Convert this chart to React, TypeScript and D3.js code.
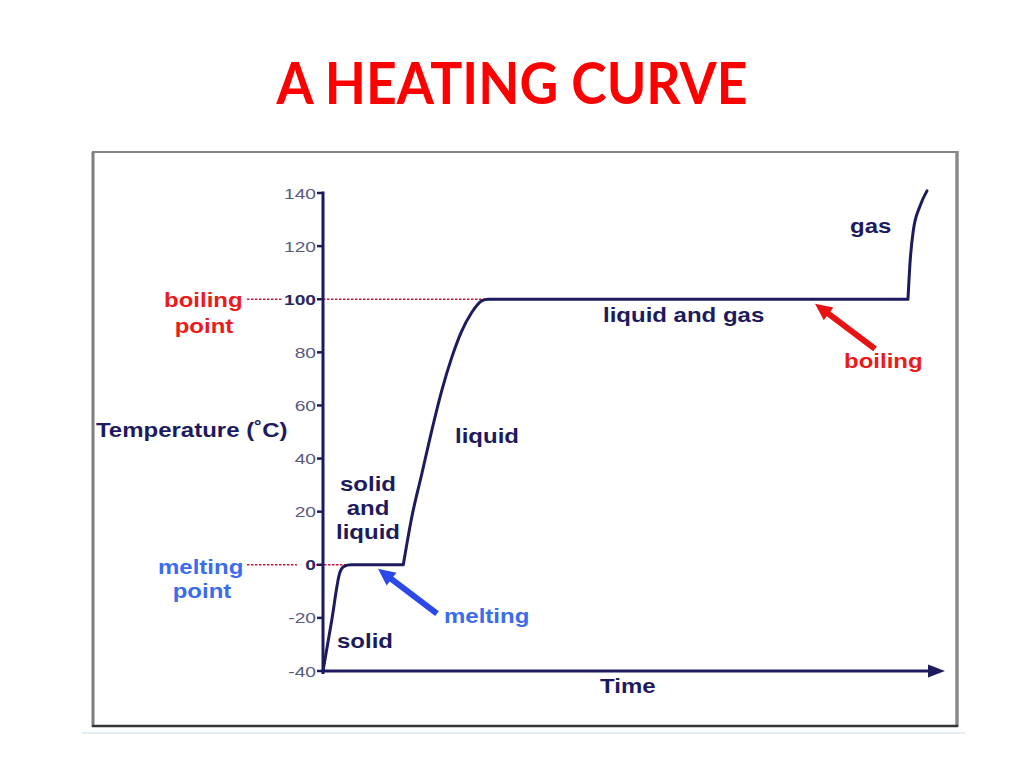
import React from "react";
import * as d3 from "d3";

// ---- data ----
const timeValues = [0, 1.4, 2.7, 3.4, 4.5, 12.91, 14.26, 15.87, 17.48, 19.08, 20.69, 22.3, 23.91, 25.51, 26.58, 94.05, 94.4, 94.9, 96.0, 97.1];
const temperatureValues = [-40, -21, -3, -0.6, 0, 0, 17.8, 34.1, 50.5, 65.5, 78, 88, 95, 99.4, 100, 100, 114.5, 125.8, 135.2, 140.8];
const yTicks = [-40, -20, 0, 20, 40, 60, 80, 100, 120, 140];
const meltingPoint = 0;
const boilingPoint = 100;
const meltingArrow = { tail: [18.33, -18.4], tip: [8.84, -1.5] };
const boilingArrow = { tail: [88.75, 81.3], tip: [79.1, 98.3] };
// curve pieces (index ranges) joined at the sharp corners of the heating curve
const curvePieces = [
  [0, 5],
  [5, 15],
  [15, 19],
];

const NAVY = "#1d1b5e";
const RED = "#ee1a1a";
const BLUE = "#3a6cec";

const x = d3.scaleLinear().domain([0, 100]).range([323, 945]);
const y = d3.scaleLinear().domain([-40, 140]).range([671, 193]);

const points: [number, number][] = timeValues.map((t, i) => [t, temperatureValues[i]]);
const line = d3
  .line<[number, number]>()
  .x((d) => x(d[0]))
  .y((d) => y(d[1]))
  .curve(d3.curveMonotoneX);

function Label({ x: lx, y: ly, text, fill, anchor = "start", size = 20, sx = 1.2, weight = "bold" }: any) {
  return (
    <text
      transform={`translate(${lx},${ly}) scale(${sx},1)`}
      textAnchor={anchor}
      fill={fill}
      fontSize={size}
      fontWeight={weight}
      fontFamily="'Liberation Sans', Arial, sans-serif"
    >
      {text}
    </text>
  );
}

function Arrow({ tail, tip, color }: { tail: number[]; tip: number[]; color: string }) {
  const x0 = x(tail[0]), y0 = y(tail[1]);
  const x1 = x(tip[0]), y1 = y(tip[1]);
  const dx = x1 - x0, dy = y1 - y0;
  const len = Math.hypot(dx, dy);
  const ux = dx / len, uy = dy / len;
  const px = -uy, py = ux;
  const headLen = 17, headW = 8, shaftW = 3;
  const bx = x1 - ux * headLen, by = y1 - uy * headLen;
  const pts = [
    [x0 + px * shaftW, y0 + py * shaftW],
    [bx + px * shaftW, by + py * shaftW],
    [bx + px * headW, by + py * headW],
    [x1, y1],
    [bx - px * headW, by - py * headW],
    [bx - px * shaftW, by - py * shaftW],
    [x0 - px * shaftW, y0 - py * shaftW],
  ];
  return <polygon points={pts.map((p) => p.join(",")).join(" ")} fill={color} />;
}

export default function App() {
  const y0 = y(meltingPoint);
  const y100 = y(boilingPoint);
  const meltStartX = x(timeValues[4]);
  const boilStartX = x(timeValues[14]);
  const curveD = curvePieces.map(([a, b]) => line(points.slice(a, b + 1)) || "").join(" ");
  return (
    <svg width={1024} height={768} style={{ position: "absolute", left: 0, top: 0, background: "#fff" }}>
      <text
        x={512}
        y={104}
        textAnchor="middle"
        fill="#ff0000"
        fontSize={57}
        fontWeight="bold"
        fontFamily="Lato, 'Open Sans', sans-serif"
        textLength={471}
        lengthAdjust="spacingAndGlyphs"
      >
        A HEATING CURVE
      </text>

      {/* frame */}
      <line x1={82} x2={965} y1={733} y2={733} stroke="#e4edf4" strokeWidth={2} />
      <line x1={92} x2={957} y1={152} y2={152} stroke="#5a5a5a" strokeWidth={1.5} />
      <line x1={93} x2={93} y1={152} y2={727} stroke="#7f7f7f" strokeWidth={3} />
      <line x1={957} x2={957} y1={151} y2={727} stroke="#8a8a8a" strokeWidth={3.5} />
      <line x1={92} x2={958} y1={726} y2={726} stroke="#363636" strokeWidth={2.5} />

      {/* dotted guide lines */}
      <g stroke="#d0143a" strokeWidth={1.6} strokeDasharray="2.5,1.5">
        <line x1={247} x2={282} y1={y100} y2={y100} />
        <line x1={323} x2={boilStartX} y1={y100} y2={y100} />
        <line x1={247} x2={297} y1={y0} y2={y0} />
        <line x1={316} x2={meltStartX} y1={y0} y2={y0} />
      </g>

      {/* y axis */}
      <line x1={323} x2={323} y1={y(140) - 1.5} y2={y(-40) + 3} stroke={NAVY} strokeWidth={3} />
      {yTicks.map((t) => (
        <g key={t}>
          <line x1={317} x2={323} y1={y(t)} y2={y(t)} stroke={NAVY} strokeWidth={2.5} />
          <Label
            x={316}
            y={y(t) + 5.5}
            text={String(t)}
            anchor="end"
            size={15}
            sx={1.28}
            weight={t === 0 || t === 100 ? "bold" : "normal"}
            fill={t === 0 || t === 100 ? "#2a285e" : "#5a5a7e"}
          />
        </g>
      ))}

      {/* x axis */}
      <line x1={323} x2={930} y1={y(-40)} y2={y(-40)} stroke={NAVY} strokeWidth={3} />
      <polygon points={`945,${y(-40)} 928,${y(-40) - 6.5} 928,${y(-40) + 6.5}`} fill={NAVY} />

      {/* heating curve */}
      <path d={curveD} fill="none" stroke={NAVY} strokeWidth={3} strokeLinejoin="round" strokeLinecap="round" />

      {/* arrows */}
      <Arrow tail={meltingArrow.tail} tip={meltingArrow.tip} color="#2b48e8" />
      <Arrow tail={boilingArrow.tail} tip={boilingArrow.tip} color="#e81212" />

      {/* labels */}
      <Label x={164} y={307} text="boiling" fill={RED} />
      <Label x={204} y={333} text="point" fill={RED} anchor="middle" />
      <Label x={158} y={574} text="melting" fill={BLUE} />
      <Label x={202} y={598} text="point" fill={BLUE} anchor="middle" />
      <Label x={96} y={437} text="Temperature (˚C)" fill={NAVY} />
      <Label x={368} y={491} text="solid" fill={NAVY} anchor="middle" />
      <Label x={368} y={515} text="and" fill={NAVY} anchor="middle" />
      <Label x={368} y={539} text="liquid" fill={NAVY} anchor="middle" />
      <Label x={337} y={648} text="solid" fill={NAVY} />
      <Label x={444} y={623} text="melting" fill={BLUE} />
      <Label x={455} y={443} text="liquid" fill={NAVY} />
      <Label x={603} y={322} text="liquid and gas" fill={NAVY} />
      <Label x={850} y={233} text="gas" fill={NAVY} />
      <Label x={844} y={368} text="boiling" fill={RED} />
      <Label x={600} y={693} text="Time" fill={NAVY} />
    </svg>
  );
}
